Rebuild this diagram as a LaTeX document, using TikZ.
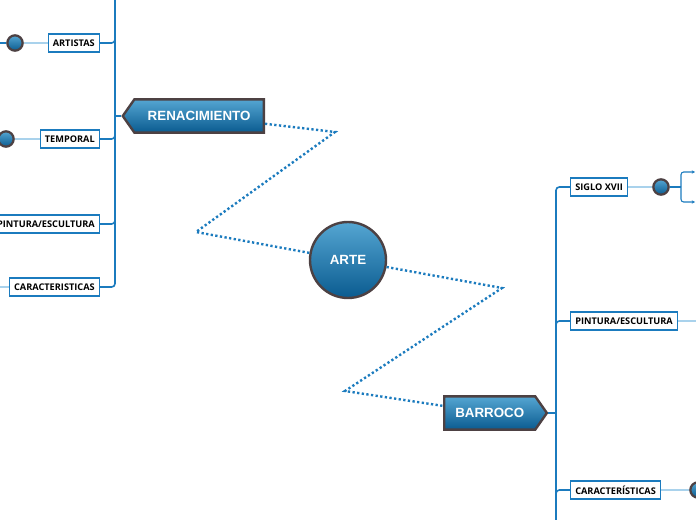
\documentclass[tikz,border=0pt]{standalone}
\usepackage{fontspec}
\setmainfont{Open Sans}
\newfontfamily\headfont{Liberation Sans}
\usetikzlibrary{shapes.symbols, arrows.meta, positioning}
\definecolor{mapblue}{HTML}{1B7BBE}
\definecolor{paleblue}{HTML}{A9D2EC}
\definecolor{deepblue}{HTML}{0A5B90}
\definecolor{skyblue}{HTML}{55A6D2}
\definecolor{rimbrown}{HTML}{4D4143}

\begin{document}
\begin{tikzpicture}[
    x=0.75pt, y=-0.75pt,
    topic/.style={draw=mapblue, fill=white, line width=0.9pt, inner xsep=3.5pt, minimum height=13.5pt, font=\fontsize{6.9}{7.5}\selectfont\bfseries},
    main/.style={signal, draw=rimbrown, line width=1.8pt, top color=skyblue, bottom color=deepblue, text=white, font=\headfont\fontsize{10}{11}\selectfont\bfseries, minimum height=25pt, signal pointer angle=110},
    knob/.style={circle, draw=rimbrown, line width=1.7pt, top color=skyblue, bottom color=deepblue, minimum size=11.5pt, inner sep=0pt},
    branch/.style={draw=mapblue, line width=1.2pt, rounded corners=2.5pt},
    leaf/.style={draw=paleblue, line width=1pt},
    link/.style={draw=mapblue, line width=1.8pt, dash pattern=on 1.7pt off 1.8pt}
]
    \useasboundingbox (0,0) rectangle (696,520);
    \clip (0,0) rectangle (696,520);

    \coordinate (edgeL) at (0,0);
    \coordinate (edgeR) at (696,0);
    \coordinate (spineL) at (115,0);
    \coordinate (spineR) at (556,520);

    \node[main, circle, minimum size=57pt, inner sep=0pt, signal to=nowhere] (arte) at (348,260) {ARTE};
    \node[main, signal to=west, minimum width=104pt, anchor=east, inner xsep=10pt] (renac) at (265,116) {RENACIMIENTO};
    \node[main, signal to=east, minimum width=77pt, anchor=west, inner xsep=8pt] (barroco) at (443,413) {BARROCO};

    \node[topic, anchor=east] (artistas) at (100,43) {ARTISTAS};
    \node[topic, anchor=east] (temporal) at (100,139) {TEMPORAL};
    \node[topic, anchor=east] (pinturaL) at (100,224) {PINTURA/ESCULTURA};
    \node[topic, anchor=east] (caracL) at (100,287) {CARACTERISTICAS};

    \node[topic, anchor=west] (siglo) at (570,187) {SIGLO XVII};
    \node[topic, anchor=west] (pinturaR) at (570,321) {PINTURA/ESCULTURA};
    \node[topic, anchor=west] (caracR) at (570,490) {CARACTERÍSTICAS};

    \node[knob] (knobA) at (15,43) {};
    \node[knob] (knobT) at (6,139) {};
    \node[knob] (knobS) at (661,187) {};
    \node[knob] (knobC) at (698,490) {};

    \coordinate (bend1) at (335,132);
    \coordinate (bend2) at (196,232);
    \coordinate (bend3) at (502,288);
    \coordinate (bend4) at (345,391);
    \coordinate (fork) at (681,187);

    \draw[link] (renac) -- (bend1) -- (bend2) -- (arte);
    \draw[link] (arte) -- (bend3) -- (bend4) -- (barroco);

    \draw[branch] (spineL) |- (caracL.east);
    \draw[branch] (artistas.east) -| (spineL);
    \draw[branch] (temporal.east) -| (spineL);
    \draw[branch] (pinturaL.east) -| (spineL);
    \draw[branch] (renac.west) -- (renac.west -| spineL);

    \draw[branch] (spineR) |- (siglo.west);
    \draw[branch] (pinturaR.west) -| (spineR);
    \draw[branch] (caracR.west) -| (spineR);
    \draw[branch] (barroco.east) -- (barroco.east -| spineR);

    \draw[leaf] (artistas.west) -- (knobA.east);
    \draw[leaf] (temporal.west) -- (knobT.east);
    \draw[leaf] (caracL.west) -- (caracL.west -| edgeL);
    \draw[leaf] (siglo.east) -- (knobS.west);
    \draw[leaf] (pinturaR.east) -- (pinturaR.east -| edgeR);
    \draw[leaf] (caracR.east) -- (knobC.west);

    \draw[branch] (knobA.west) -- (knobA.west -| edgeL);
    \draw[branch] (knobS.east) -- (fork);
    \draw[draw=mapblue, line width=0.8pt, rounded corners=2pt, -{Stealth[length=2.5pt, width=2.5pt]}] (fork) |- ++(14,-15);
    \draw[draw=mapblue, line width=0.8pt, rounded corners=2pt, -{Stealth[length=2.5pt, width=2.5pt]}] (fork) |- ++(14,15);
\end{tikzpicture}
\end{document}
